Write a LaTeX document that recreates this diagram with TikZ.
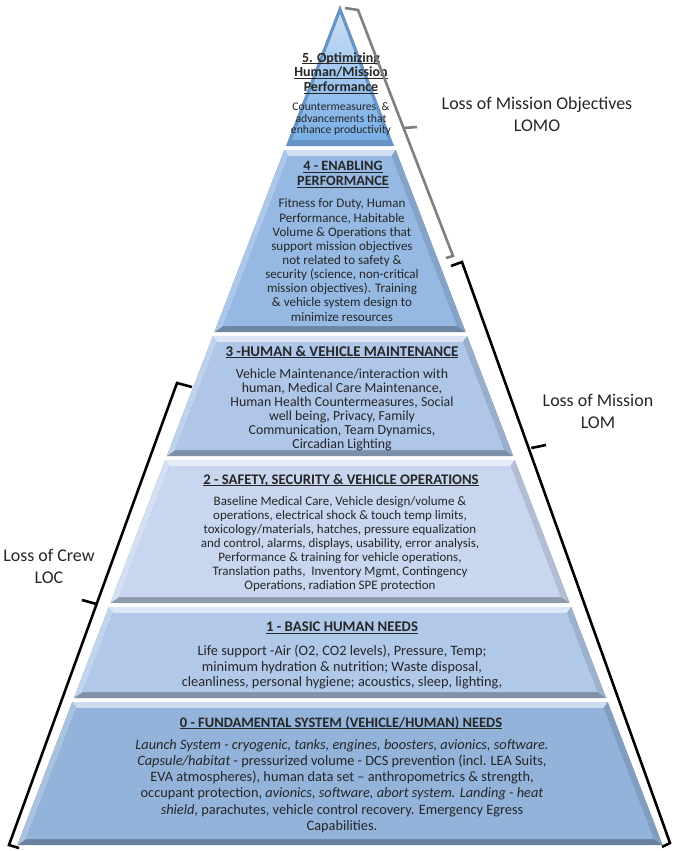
\documentclass[tikz,border=0pt]{standalone}
\usepackage{fontspec}
\setmainfont{Carlito}
\definecolor{cfive}{HTML}{78AEE6}
\definecolor{cfour}{HTML}{96B9E3}
\definecolor{cthree}{HTML}{AEC6E8}
\definecolor{ctwo}{HTML}{C8D7EF}
\definecolor{cone}{HTML}{B1C9E9}
\definecolor{czero}{HTML}{93B3DA}
\definecolor{txt}{HTML}{262626}
\definecolor{brgray}{HTML}{7F7F7F}
\newcommand\undl[1]{\sbox0{#1}\rlap{\rule[-1.9pt]{\wd0}{0.8pt}}\usebox0}
\newcommand\pyrlayer[3]{%
 \pgfmathsetmacro\pya{#1}\pgfmathsetmacro\pyb{#2}%
 \pgfmathsetmacro\pxa{340-0.384*(\pya-5)}%
 \pgfmathsetmacro\pxb{340-0.384*(\pyb-5)}%
 \pgfmathsetmacro\pxA{680-\pxa}\pgfmathsetmacro\pxB{680-\pxb}%
 \pgfmathsetmacro\pyi{\pya+6}\pgfmathsetmacro\pyj{\pyb-6}%
 \pgfmathsetmacro\pxi{340-0.384*(\pyi-5)+6.4}%
 \pgfmathsetmacro\pxj{340-0.384*(\pyj-5)+6.4}%
 \pgfmathsetmacro\pxI{680-\pxi}\pgfmathsetmacro\pxJ{680-\pxj}%
 \fill[#3!72!black] (\pxa,\pya)--(\pxA,\pya)--(\pxB,\pyb)--(\pxb,\pyb)--cycle;
 \fill[#3!45!white] (\pxa,\pya)--(\pxA,\pya)--(\pxI,\pyi)--(\pxi,\pyi)--cycle;
 \fill[#3!80!white] (\pxa,\pya)--(\pxi,\pyi)--(\pxj,\pyj)--(\pxb,\pyb)--cycle;
 \fill[#3!88!black] (\pxA,\pya)--(\pxI,\pyi)--(\pxJ,\pyj)--(\pxB,\pyb)--cycle;
 \fill[#3] (\pxi,\pyi)--(\pxI,\pyi)--(\pxJ,\pyj)--(\pxj,\pyj)--cycle;
}
\tikzset{
 body/.style={align=center, text=txt, inner sep=0pt},
 side/.style={align=center, text=txt, inner sep=0pt, font=\fontsize{18}{22}\selectfont},
 brace/.style={line width=2.6pt, line cap=butt, line join=miter}
}
\begin{document}
\begin{tikzpicture}[x=1bp,y=-1bp]
\useasboundingbox (0,0) rectangle (685,851);
\fill[white] (0,0) rectangle (685,851);
% top triangle
\fill[cfive!85!black] (340,5)--(394.1,146)--(285.9,146)--cycle;
\shade[top color=cfive!40!white, bottom color=cfive] (340,14)--(388,140)--(292,140)--cycle;
% layers
\pyrlayer{150}{332}{cfour}
\pyrlayer{336}{456}{cthree}
\pyrlayer{460}{603}{ctwo}
\pyrlayer{607}{698}{cone}
\pyrlayer{702}{845}{czero}
% texts
\node[body, font=\bfseries\fontsize{14}{15}\selectfont] (h5) at (341,73) {\undl{5. Optimizing}\\\undl{Human/Mission}\\\undl{Performance}};
\node[body, font=\fontsize{11.7}{12}\selectfont] (b5) at (341,119) {Countermeasures \ \&\\advancements that\\enhance productivity};
\node[body, font=\bfseries\fontsize{14.3}{15}\selectfont] (h4) at (343,174.5) {\undl{4 - ENABLING}\\\undl{PERFORMANCE}};
\node[body, font=\fontsize{13.1}{14.2}\selectfont] (b4) at (342,260) {Fitness for Duty, Human\\Performance, Habitable\\Volume \& Operations that\\support mission objectives\\not related to safety \&\\security (science, non-critical\\mission objectives). Training\\\& vehicle system design to\\minimize resources};
\node[body, font=\bfseries\fontsize{15}{16}\selectfont] (h3) at (342,352) {\undl{3 -HUMAN \& VEHICLE MAINTENANCE}};
\node[body, font=\fontsize{13.9}{14.2}\selectfont] (b3) at (342,410) {Vehicle Maintenance/interaction with\\human, Medical Care Maintenance,\\Human Health Countermeasures, Social\\well being, Privacy, Family\\Communication, Team Dynamics,\\Circadian Lighting};
\node[body, font=\bfseries\fontsize{14.7}{15}\selectfont] (h2) at (341,480) {\undl{2 - SAFETY, SECURITY \& VEHICLE OPERATIONS}};
\node[body, font=\fontsize{13}{14}\selectfont] (b2) at (340,544) {Baseline Medical Care, Vehicle design/volume \&\\operations, electrical shock \& touch temp limits,\\toxicology/materials, hatches, pressure equalization\\and control, alarms, displays, usability, error analysis,\\Performance \& training for vehicle operations,\\Translation paths, \ Inventory Mgmt, Contingency\\Operations, radiation SPE protection};
\node[body, font=\bfseries\fontsize{14.8}{15}\selectfont] (h1) at (342,628) {\undl{1 - BASIC HUMAN NEEDS}};
\node[body, font=\fontsize{14.4}{15.5}\selectfont] (b1) at (342,667) {Life support -Air (O2, CO2 levels), Pressure, Temp;\\minimum hydration \& nutrition; Waste disposal,\\cleanliness, personal hygiene; acoustics, sleep, lighting,};
\node[body, font=\bfseries\fontsize{14.5}{15}\selectfont] (h0) at (341,723) {\undl{0 - FUNDAMENTAL SYSTEM (VEHICLE/HUMAN) NEEDS}};
\node[body, font=\fontsize{14.4}{16.2}\selectfont] (b0) at (342,786) {\textit{Launch System - cryogenic, tanks, engines, boosters, avionics, software.}\\\textit{Capsule/habitat} - pressurized volume - DCS prevention (incl. LEA Suits,\\EVA atmospheres), human data set -- anthropometrics \& strength,\\occupant protection, \textit{avionics, software, abort system. Landing - heat}\\\textit{shield,} parachutes, vehicle control recovery. Emergency Egress\\Capabilities.};
% side labels
\node[side] (lomo) at (537,114) {Loss of Mission Objectives\\LOMO};
\node[side] (lom) at (598,411) {Loss of Mission\\LOM};
\node[side] (loc) at (49,566) {Loss of Crew\\LOC};
% brackets
\coordinate (g1) at (345,8); \coordinate (g2) at (358,10);
\coordinate (g3) at (453,256); \coordinate (g4) at (446,258);
\coordinate (gm) at (403.6,128); \coordinate (gt) at (417,127);
\draw[brace, brgray] (g1)--(g2)--(g3)--(g4);
\draw[brace, brgray] (gm)--(gt);
\coordinate (r1) at (451,266); \coordinate (r2) at (462,262);
\coordinate (r3) at (670,843); \coordinate (r4) at (662,847);
\coordinate (rm) at (531.3,448); \coordinate (rt) at (546,445);
\draw[brace, black] (r1)--(r2)--(r3)--(r4);
\draw[brace, black] (rm)--(rt);
\coordinate (l1) at (192,387); \coordinate (l2) at (177,383);
\coordinate (l3) at (9,845); \coordinate (l4) at (19,848);
\coordinate (lm) at (96.5,604); \coordinate (lt) at (82,600);
\draw[brace, black] (l1)--(l2)--(l3)--(l4);
\draw[brace, black] (lm)--(lt);
\end{tikzpicture}
\end{document}
